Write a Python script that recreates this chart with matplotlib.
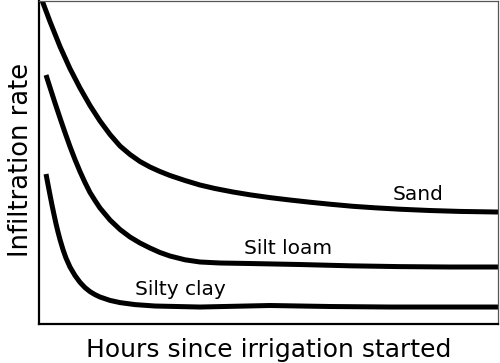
import matplotlib
matplotlib.use('Agg')
import matplotlib.pyplot as plt

# curves (hours 0..10, rate 0..10, arbitrary units)
sand_x = [0.022, 0.240, 0.458, 0.675, 0.893, 1.111, 1.329, 1.547, 1.765,
          1.983, 2.200, 2.418, 2.636, 2.854, 3.181, 3.508, 3.834, 4.227,
          4.597, 5.033, 5.468, 5.904, 6.340, 6.841, 7.320, 7.865, 8.519,
          9.172, 10.0]
sand_y = [10.186, 9.362, 8.588, 7.907, 7.307, 6.765, 6.285, 5.867, 5.511,
          5.248, 5.031, 4.861, 4.721, 4.598, 4.443, 4.303, 4.195, 4.087,
          4.000, 3.913, 3.839, 3.771, 3.709, 3.644, 3.598, 3.554, 3.514,
          3.486, 3.467]

loam_x = [0.153, 0.240, 0.349, 0.458, 0.566, 0.675, 0.784, 0.893, 1.002,
          1.111, 1.220, 1.329, 1.547, 1.765, 1.983, 2.200, 2.418, 2.636,
          2.854, 3.181, 3.508, 3.943, 4.597, 5.686, 6.776, 7.865, 8.954, 10.0]
loam_y = [7.709, 7.322, 6.842, 6.378, 5.929, 5.495, 5.093, 4.721, 4.381,
          4.071, 3.824, 3.591, 3.220, 2.926, 2.693, 2.508, 2.353, 2.214,
          2.105, 1.988, 1.920, 1.889, 1.873, 1.842, 1.802, 1.777, 1.765, 1.765]

clay_x = [0.153, 0.196, 0.240, 0.283, 0.327, 0.370, 0.414, 0.458, 0.523,
          0.588, 0.675, 0.784, 0.893, 1.002, 1.111, 1.220, 1.329, 1.547,
          1.765, 2.092, 2.527, 3.508, 5.033, 6.340, 7.647, 10.0]
clay_y = [4.644, 4.319, 3.994, 3.684, 3.387, 3.108, 2.848, 2.613, 2.303,
          2.043, 1.765, 1.502, 1.291, 1.127, 1.003, 0.910, 0.836, 0.731,
          0.663, 0.601, 0.557, 0.526, 0.573, 0.542, 0.526, 0.526]

labels = ['Sand', 'Silt loam', 'Silty clay']
label_xy = [(8.26, 4.02), (5.42, 2.35), (3.07, 1.08)]

fig = plt.figure(figsize=(5, 3.63), dpi=100)
ax = fig.add_axes([0.078, 0.1074, 0.918, 0.8898])

for xs, ys in [(sand_x, sand_y), (loam_x, loam_y), (clay_x, clay_y)]:
    ax.plot(xs, ys, color='black', lw=3.6, solid_joinstyle='round',
            solid_capstyle='butt')

for txt, (lx, ly) in zip(labels, label_xy):
    ax.text(lx, ly, txt, ha='center', va='center', fontsize=14.5)

ax.set_xlim(0, 10)
ax.set_ylim(0, 10)
ax.set_xticks([])
ax.set_yticks([])
for side in ['left', 'bottom']:
    ax.spines[side].set_linewidth(1.6)
    ax.spines[side].set_color('black')
for side in ['top', 'right']:
    ax.spines[side].set_linewidth(0.9)
    ax.spines[side].set_color('#555555')

fig.text(0.537, 0.0165, 'Hours since irrigation started', ha='center',
         va='baseline', fontsize=18)
fig.text(0.042, 0.559, 'Infiltration rate', ha='center', va='center',
         rotation=90, fontsize=18.5)

fig.savefig('out.png', dpi=100)
